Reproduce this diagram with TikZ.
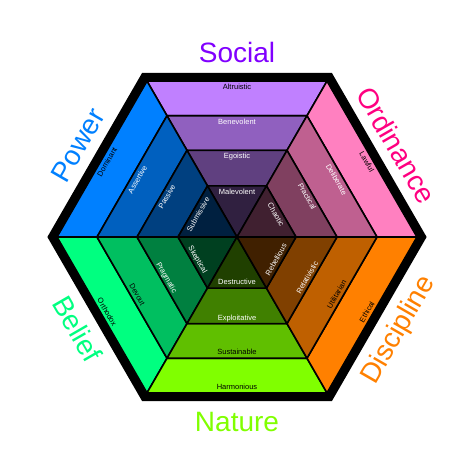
\documentclass[tikz,border=0pt]{standalone}
\usepackage{fontspec}
\setmainfont{Liberation Sans}
\usepackage{xcolor}

\definecolor{socialC}{HTML}{C080FF}
\definecolor{ordC}{HTML}{FF80C0}
\definecolor{powerC}{HTML}{0080FF}
\definecolor{beliefC}{HTML}{00FF80}
\definecolor{natureC}{HTML}{80FF00}
\definecolor{discC}{HTML}{FF8000}
\definecolor{socialT}{HTML}{8000FF}
\definecolor{ordT}{HTML}{FF0080}

\begin{document}
\begin{tikzpicture}[x=1pt,y=1pt]
        \tikzset{band/.style={draw=black,line width=1.6pt,line join=round},
            lbl/.style={font=\fontsize{7.5}{8}\selectfont,inner sep=0pt,
                text height=5.4pt,text depth=0pt},
            axis title/.style={font=\fontsize{28}{30}\selectfont,inner sep=0pt,
                text height=20pt,text depth=0pt}}
        \useasboundingbox (-237,-237) rectangle (237,237);
        % one sector per axis, four rings each
        \foreach \ang/\col/\key/\rot/\ta/\tb/\tc/\td/\kb/\ttl/\tcol in {
                90/socialC/social/0/Altruistic/Benevolent/Egoistic/Malevolent/white/Social/socialT,
                30/ordC/ordinance/-60/Lawful/Deliberate/Practical/Chaotic/white/Ordinance/ordT,
                150/powerC/power/60/Dominant/Assertive/Passive/Submissive/white/Power/powerC,
                210/beliefC/belief/-60/Orthodox/Devout/Pragmatic/Skeptical/black/Belief/beliefC,
                270/natureC/nature/0/Harmonious/Sustainable/Exploitative/Destructive/black/Nature/natureC,
                330/discC/discipline/60/Ethical/Utilitarian/Relativistic/Rebellious/black/Discipline/discC}
        {
            \filldraw[band,fill=\col] (\ang-30:180) -- (\ang+30:180) -- (\ang+30:140) -- (\ang-30:140) -- cycle;
            \filldraw[band,fill=\col!75!black] (\ang-30:140) -- (\ang+30:140) -- (\ang+30:100) -- (\ang-30:100) -- cycle;
            \filldraw[band,fill=\col!50!black] (\ang-30:100) -- (\ang+30:100) -- (\ang+30:59) -- (\ang-30:59) -- cycle;
            \filldraw[band,fill=\col!25!black] (\ang-30:59) -- (\ang+30:59) -- (0,0) -- cycle;
            \node[lbl,rotate=\rot,text=black] (\key-1) at (\ang:150) {\ta};
            \node[lbl,rotate=\rot,text=\kb] (\key-2) at (\ang:115) {\tb};
            \node[lbl,rotate=\rot,text=white] (\key-3) at (\ang:81) {\tc};
            \node[lbl,rotate=\rot,text=white] (\key-4) at (\ang:45) {\td};
            \node[axis title,rotate=\rot,text=\tcol] (\key-title) at (\ang:184) {\ttl};
        }
        % thick outer frame
        \draw[line width=8pt,line join=miter]
            (0:185) -- (60:185) -- (120:185) -- (180:185) -- (240:185) -- (300:185) -- cycle;
\end{tikzpicture}
\end{document}
